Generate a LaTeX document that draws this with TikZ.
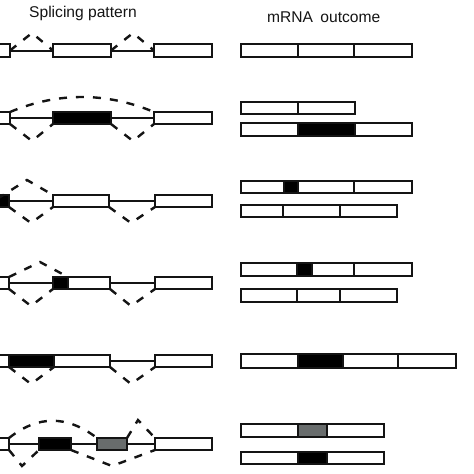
\documentclass[tikz,border=0pt]{standalone}
\usepackage{fontspec}
\setmainfont{Liberation Sans}
\definecolor{altgray}{RGB}{104,108,108}
\definecolor{inkc}{RGB}{20,20,20}
\tikzset{
  exon/.style={draw=inkc,line width=2.6pt,fill=white,inner sep=0pt,outer sep=0pt,rectangle},
  blk/.style={fill=black},
  gry/.style={fill=altgray},
  intron/.style={draw=inkc,line width=2pt},
  splice/.style={draw=inkc,line width=2.4pt,dash pattern=on 8pt off 9pt},
  title/.style={font=\fontsize{15.6}{18}\selectfont,text=inkc,anchor=base west,inner sep=0pt}
}
\newcommand\ex[6]{%
  \pgfmathsetmacro\exw{#4-#2}\pgfmathsetmacro\exh{#5-#3}%
  \node[exon,#6,minimum width=\exw pt,minimum height=\exh pt] (#1) at ({(#2+#4)/2},{(#3+#5)/2}) {};}
\begin{document}
\begin{tikzpicture}[x=1pt,y=-1pt]
\useasboundingbox (0,0) rectangle (474,474);
% titles
\node[title] (t1) at (29,17) {Splicing pattern};
\node[title] (t2) at (267,22.5) {mRNA\hspace{3pt} outcome};
% ---------- row 1 ----------
\ex{a1}{-10}{44}{10}{57}{}
\ex{b1}{53}{44}{111}{57}{}
\ex{c1}{154}{44}{212}{57}{}
\draw[intron] (a1.east) -- (b1.west);
\draw[intron] (b1.east) -- (c1.west);
\coordinate (p1a) at (32,33);
\coordinate (p1b) at (133,33);
\draw[splice] (a1.east) -- (p1a) -- (b1.west);
\draw[splice] (b1.east) -- (p1b) -- (c1.west);
% ---------- row 2 ----------
\ex{a2}{-10}{112}{10}{124}{}
\ex{b2}{53}{112}{111}{124}{blk}
\ex{c2}{154}{112}{212}{124}{}
\draw[intron] (a2.east) -- (b2.west);
\draw[intron] (b2.east) -- (c2.west);
\coordinate (q2a) at (58,92);
\coordinate (q2b) at (106,92);
\coordinate (p2a) at (32,141);
\coordinate (p2b) at (133,141);
\draw[splice] (a2.north east) .. controls (q2a) and (q2b) .. (c2.north west);
\draw[splice] (a2.south east) -- (p2a) -- (b2.south west);
\draw[splice] (b2.south east) -- (p2b) -- (c2.south west);
% ---------- row 3 ----------
\ex{a3}{-10}{195}{9}{207}{blk}
\ex{b3}{53}{195}{109}{207}{}
\ex{c3}{155}{195}{212}{207}{}
\draw[intron] (a3.east) -- (b3.west);
\draw[intron] (b3.east) -- (c3.west);
\coordinate (s3) at (-3,199);
\coordinate (p3u) at (27,180);
\coordinate (p3a) at (31,223);
\coordinate (p3b) at (131,223);
\draw[splice] (s3) -- (p3u) -- (b3.north west);
\draw[splice] (a3.south east) -- (p3a) -- (b3.south west);
\draw[splice] (b3.south east) -- (p3b) -- (c3.south west);
% ---------- row 4 ----------
\ex{a4}{-10}{277}{9}{289}{}
\ex{b4k}{53}{277}{68}{289}{blk}
\ex{b4w}{68}{277}{110}{289}{}
\ex{c4}{155}{277}{212}{289}{}
\draw[intron] (a4.east) -- (b4k.west);
\draw[intron] (b4w.east) -- (c4.west);
\coordinate (p4u) at (40,262);
\coordinate (p4a) at (31,306);
\coordinate (p4b) at (131,306);
\draw[splice] (a4.north east) -- (p4u) -- (b4w.north west);
\draw[splice] (a4.south east) -- (p4a) -- (b4k.south west);
\draw[splice] (b4w.south east) -- (p4b) -- (c4.south west);
% ---------- row 5 ----------
\ex{a5}{-10}{355}{9}{367}{}
\ex{b5k}{9}{355}{54}{367}{blk}
\ex{b5w}{54}{355}{110}{367}{}
\ex{c5}{155}{355}{212}{367}{}
\draw[intron] (b5w.east) -- (c5.west);
\coordinate (p5a) at (31,384);
\coordinate (p5b) at (131,384);
\draw[splice] (a5.south east) -- (p5a) -- (b5k.south east);
\draw[splice] (b5w.south east) -- (p5b) -- (c5.south west);
% ---------- row 6 ----------
\ex{a6}{-10}{438}{9}{450}{}
\ex{d6}{39}{438}{71}{450}{blk}
\ex{g6}{97}{438}{127}{450}{gry}
\ex{c6}{155}{438}{212}{450}{}
\draw[intron] (a6.east) -- (d6.west);
\draw[intron] (d6.east) -- (g6.west);
\draw[intron] (g6.east) -- (c6.west);
\coordinate (q6a) at (38,415);
\coordinate (q6b) at (67,415);
\coordinate (p6u) at (138,420);
\coordinate (p6a) at (22,466);
\coordinate (p6b) at (112,466);
\draw[splice] (a6.north east) .. controls (q6a) and (q6b) .. (g6.north west);
\draw[splice] (g6.north east) -- (p6u) -- (c6.north west);
\draw[splice] (a6.south east) -- (p6a) -- (d6.south west);
\draw[splice] (d6.south east) -- (p6b) -- (c6.south west);
% ---------- mRNA outcomes ----------
\ex{m1a}{241}{44}{298}{57}{}
\ex{m1b}{298}{44}{354}{57}{}
\ex{m1c}{354}{44}{412}{57}{}
\ex{m2a}{241}{102}{298}{114}{}
\ex{m2b}{298}{102}{355}{114}{}
\ex{n2a}{241}{123}{298}{136}{}
\ex{n2b}{298}{123}{355}{136}{blk}
\ex{n2c}{355}{123}{412}{136}{}
\ex{m3a}{241}{181}{284}{193}{}
\ex{m3b}{284}{181}{298}{193}{blk}
\ex{m3c}{298}{181}{354}{193}{}
\ex{m3d}{354}{181}{412}{193}{}
\ex{n3a}{241}{205}{283}{217}{}
\ex{n3b}{283}{205}{340}{217}{}
\ex{n3c}{340}{205}{397}{217}{}
\ex{m4a}{241}{263}{297}{276}{}
\ex{m4b}{297}{263}{312}{276}{blk}
\ex{m4c}{312}{263}{354}{276}{}
\ex{m4d}{354}{263}{412}{276}{}
\ex{n4a}{241}{289}{297}{302}{}
\ex{n4b}{297}{289}{340}{302}{}
\ex{n4c}{340}{289}{397}{302}{}
\ex{m5a}{241}{354}{298}{368}{}
\ex{m5b}{298}{354}{343}{368}{blk}
\ex{m5c}{343}{354}{398}{368}{}
\ex{m5d}{398}{354}{456}{368}{}
\ex{m6a}{241}{424}{298}{437}{}
\ex{m6b}{298}{424}{327}{437}{gry}
\ex{m6c}{327}{424}{384}{437}{}
\ex{n6a}{241}{452}{298}{464}{}
\ex{n6b}{298}{452}{327}{464}{blk}
\ex{n6c}{327}{452}{384}{464}{}
\end{tikzpicture}
\end{document}
